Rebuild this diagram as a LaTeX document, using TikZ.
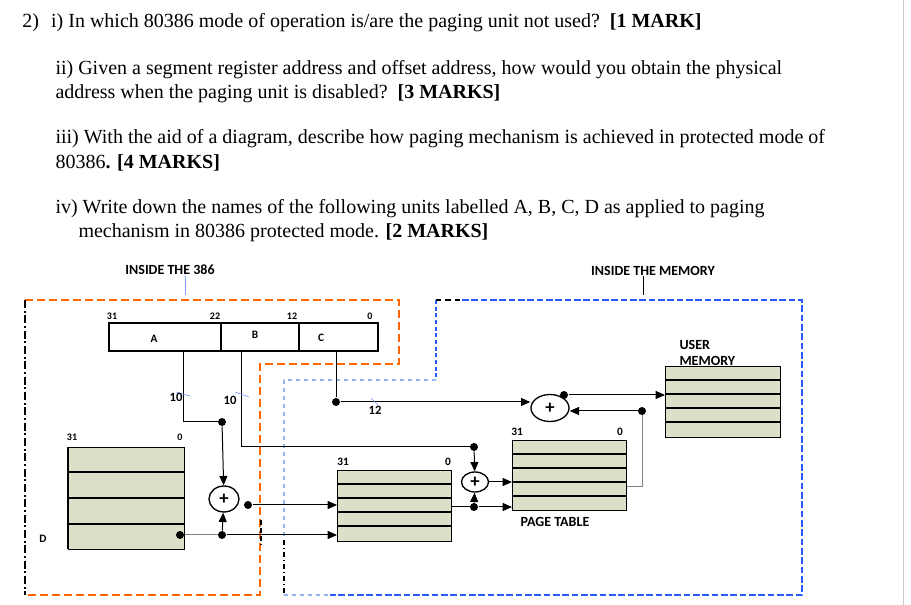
\documentclass[tikz,border=0pt]{standalone}
\usepackage{fontspec}
\setmainfont{Liberation Serif}
\newfontfamily\diagfont{Carlito}
\usetikzlibrary{arrows.meta,shapes.geometric}
\definecolor{tblfill}{RGB}{221,224,200}
\definecolor{orng}{RGB}{255,102,0}
\definecolor{blu}{RGB}{40,90,255}
\definecolor{lblu}{RGB}{150,180,240}
\tikzset{every picture/.style={line width=0.75pt}}
\tikzset{
  qtext/.style={anchor=west,inner sep=0pt,font=\fontsize{15}{18}\selectfont},
  lbl/.style={inner sep=0pt,font=\diagfont\bfseries\fontsize{10.5}{12}\selectfont},
  num/.style={inner sep=0pt,font=\diagfont\bfseries\fontsize{7.5}{9}\selectfont},
  tbl/.style={draw,fill=tblfill,line width=1pt,inner sep=0pt},
  adder/.style={draw,ellipse,line width=1pt,inner sep=0pt,font=\diagfont\bfseries\fontsize{14}{14}\selectfont},
  dot/.style={circle,fill,inner sep=0pt,minimum size=6pt},
  arr/.style={-{Triangle[length=7pt,width=6pt]}},
}
\begin{document}
\begin{tikzpicture}[x=0.75pt,y=0.75pt,yscale=-1]
\useasboundingbox (0,0) rectangle (911,605);
\draw[gray!40] (903,0) -- (903,605);

% Question text
\node[qtext] (q1) at (22,23) {2)\hspace{0.6em}i) In which 80386 mode of operation is/are the paging unit not used?\ \ \textbf{[1 MARK]}};
\node[qtext] (q2a) at (55,70) {ii) Given a segment register address and offset address, how would you obtain the physical};
\node[qtext] (q2b) at (55,94) {address when the paging unit is disabled?\ \ \textbf{[3 MARKS]}};
\node[qtext] (q3a) at (55,139) {iii) With the aid of a diagram, describe how paging mechanism is achieved in protected mode of};
\node[qtext] (q3b) at (55,163) {80386\textbf{. [4 MARKS]}};
\node[qtext] (q4a) at (55,209) {iv) Write down the names of the following units labelled A, B, C, D as applied to paging};
\node[qtext] (q4b) at (78,233) {mechanism in 80386 protected mode. \textbf{[2 MARKS]}};

% Region boxes
\draw[orng,dash pattern=on 6pt off 3pt,line width=1.2pt] (25,300) -- (399,300) -- (399,364) -- (260,364) -- (260,595) -- (25,595);
\draw[dash pattern=on 6pt off 2pt on 1.5pt off 2pt,line width=1.2pt] (25,300) -- (25,595);
\draw[blu,dash pattern=on 5pt off 2pt,line width=1.2pt] (462,300) -- (802,300) -- (802,595) -- (330,595);
\draw[blu,dash pattern=on 3pt off 2pt,line width=1.2pt] (436,300) -- (436,380);
\draw[dash pattern=on 4pt off 3pt,line width=1.2pt] (436,300) -- (462,300);
\draw[lblu,dashed,line width=1pt] (436,380) -- (284,380) -- (284,540);
\draw[lblu,dashed,line width=1pt] (284,595) -- (330,595);
\draw[dash pattern=on 4pt off 2pt on 1pt off 2pt,line width=1.2pt] (284,540) -- (284,595);
\draw[dash pattern=on 4pt off 2pt,line width=1.2pt] (261,520) -- (261,545);

\node[lbl] (in386) at (170,270) {INSIDE THE 386};
\draw[blu!60] (185,276) -- (185,295);
\node[lbl] (inmem) at (653,271) {INSIDE THE MEMORY};
\draw (643,276) -- (643,295);

% Linear address register
\node[draw,line width=1.5pt,minimum width=269pt*0.75,minimum height=28pt*0.75,inner sep=0pt,anchor=north west] (reg) at (108,322) {};
\draw[line width=1.2pt] (221,322) -- (221,350) (299,322) -- (299,350);
\node[num] (b31) at (112,316) {31};
\node[num] (b22) at (215,316) {22};
\node[num] (b12) at (292,316) {12};
\node[num] (b0) at (370,316) {0};
\node[num,font=\diagfont\bfseries\fontsize{8.5}{9}\selectfont] (A) at (154,339) {A};
\node[num,font=\diagfont\bfseries\fontsize{8.5}{9}\selectfont] (B) at (255,335) {B};
\node[num,font=\diagfont\bfseries\fontsize{8.5}{9}\selectfont] (C) at (321,338) {C};

% Tables
\node[tbl,minimum width=116pt*0.75,minimum height=102pt*0.75,anchor=north west] (dir) at (68,447) {};
\foreach \y in {472,498,524} \draw[line width=1pt] (68,\y) -- (184,\y);
\draw[line width=2pt] (68,447) -- (68,549);
\node[num] (d31) at (72,437) {31};
\node[num] (d0) at (180,437) {0};
\node[num,font=\diagfont\bfseries\fontsize{8.5}{9}\selectfont] (D) at (43,539) {D};

\node[tbl,minimum width=114pt*0.75,minimum height=71pt*0.75,anchor=north west] (pdir) at (337,470) {};
\foreach \y in {484,498,512,526} \draw[line width=1pt] (337,\y) -- (451,\y);
\node[num,font=\diagfont\bfseries\fontsize{8.5}{9}\selectfont] (p31) at (343,462) {31};
\node[num,font=\diagfont\bfseries\fontsize{8.5}{9}\selectfont] (p0) at (448,462) {0};

\node[tbl,minimum width=114pt*0.75,minimum height=70pt*0.75,anchor=north west] (ptab) at (512,440) {};
\foreach \y in {454,468,482,496} \draw[line width=1pt] (512,\y) -- (626,\y);
\node[num,font=\diagfont\bfseries\fontsize{8.5}{9}\selectfont] (t31) at (517,432) {31};
\node[num,font=\diagfont\bfseries\fontsize{8.5}{9}\selectfont] (t0) at (620,432) {0};
\node[lbl] (ptl) at (555,522) {PAGE TABLE};

\node[tbl,minimum width=115pt*0.75,minimum height=71pt*0.75,anchor=north west] (umem) at (665,366) {};
\foreach \y in {380,394,408,422} \draw[line width=1pt] (665,\y) -- (780,\y);
\node[lbl,align=left,anchor=south west] (uml) at (679,366) {USER\\MEMORY};

% Adders
\node[adder,minimum width=30pt*0.75,minimum height=26pt*0.75] (add1) at (224,499) {+};
\node[adder,minimum width=27pt*0.75,minimum height=20pt*0.75] (add2) at (475,482) {+};
\node[adder,minimum width=38pt*0.75,minimum height=27pt*0.75] (add3) at (550,408) {+};

% Dots
\node[dot] (jA) at (222,422) {};
\node[dot] (jD) at (222,535) {};
\node[dot] (dD) at (180,535) {};
\node[dot] (o1) at (248,505) {};
\node[dot] (jC) at (336,402) {};
\node[dot] (jB) at (474,447) {};
\node[dot] (jP) at (474,507) {};
\node[dot] (jT) at (642,411) {};
\node[dot] (o3) at (564,395) {};
\coordinate (rA) at (183,350);
\coordinate (rB) at (241,350);
\coordinate (rC) at (336,350);

% Connectors
\draw (rA) |- (jA);
\draw[arr] (jA) -- (add1);
\draw[gray] (dD) -- (jD);
\draw[arr] (jD) -- (add1);
\draw[arr] (jD) -- (pdir.west |- jD);
\draw[arr] (o1) -- (pdir.west |- o1);
\draw (rB) |- (jB);
\draw[arr] (jB) -- (add2);
\draw[arr] (pdir.east |- jP) -- (jP) -- (ptab.west |- jP);
\draw[arr] (jP) -- (add2);
\draw[arr] (add2.east) -- (ptab.west |- add2.east);
\draw (rC) -- (jC);
\draw[arr] (jC) -- (add3.west |- jC);
\draw[gray] (ptab.east |- 0,487) -| (jT);
\draw[arr] (jT) -- (add3.east |- jT);
\draw[arr] (o3) -- (umem.west |- o3);

% Width marks
\draw[blu!60,line width=0.5pt] (176,392) -- (190,396);
\draw[blu!60,line width=0.5pt] (235,392) -- (249,397);
\draw[blu!60,line width=0.5pt] (371,398) -- (378,405);
\node[num,font=\diagfont\bfseries\fontsize{9.5}{9}\selectfont] (w1) at (176,397) {10};
\node[num,font=\diagfont\bfseries\fontsize{9.5}{9}\selectfont] (w2) at (230,400) {10};
\node[num,font=\diagfont\bfseries\fontsize{9.5}{9}\selectfont] (w3) at (375,410) {12};
\end{tikzpicture}
\end{document}
